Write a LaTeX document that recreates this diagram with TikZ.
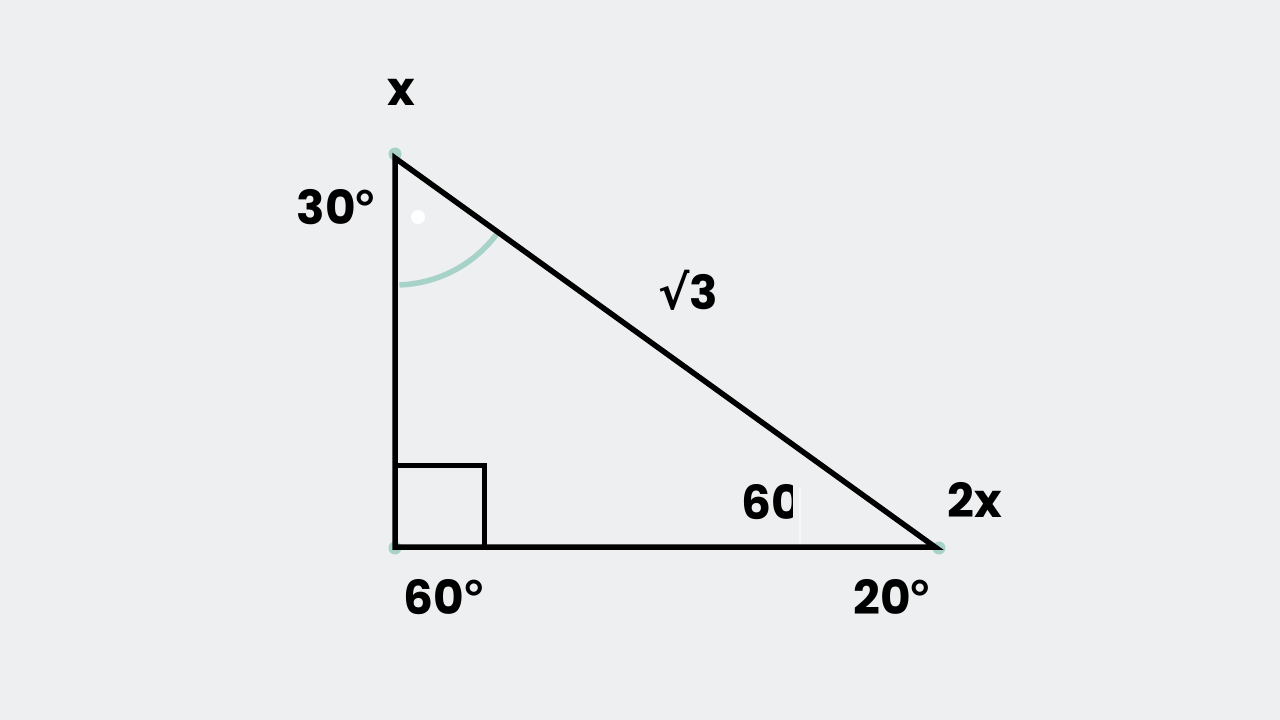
\documentclass[tikz,border=0pt]{standalone}
\usepackage{fontspec}
\setmainfont{Poppins}
\newfontfamily\degfont{Lato}
\newfontfamily\radfont{DejaVu Sans}
\newcommand{\dg}{{\degfont°}}
\definecolor{bg}{HTML}{EEEFF0}
\definecolor{teal}{HTML}{A6D2C8}
\tikzset{
  edge/.style={line width=5.5pt, black, line cap=round, line join=miter},
  lbl/.style={font=\fontsize{47}{47}\selectfont\bfseries, text=black, inner sep=0pt},
  vdot/.style={circle, fill=teal, inner sep=0pt, minimum size=13pt}
}
\begin{document}
\begin{tikzpicture}[x=1pt,y=-1pt]
\fill[bg] (0,0) rectangle (1280,720);
\useasboundingbox (0,0) rectangle (1280,720);
\coordinate (A) at (395,158);
\coordinate (B) at (395,547);
\coordinate (C) at (935,547);
\draw[white, line width=1.5pt, opacity=0.5] (800,488) -- (800,545);
\node[vdot] (dA) at (395,154) {};
\node[vdot] (dB) at (395,548) {};
\node[vdot] (dC) at (939,548) {};
% angle arc
\draw[teal, line width=5.5pt] (A) ++(88:127) arc[start angle=88, end angle=36, radius=127];
\draw[edge] (A) -- (B) -- (C) -- cycle;
\draw[line width=5pt] (395,465) -- (484,465) -- (484,547);
\node[circle, fill=white, inner sep=0pt, minimum size=14pt] (wd) at (418,217) {};
% labels
\node[lbl] (lx) at (401,92) {x};
\node[lbl] (l30) at (336,207) {30\dg};
\node[lbl] (ls) at (688,290) {{\radfont√}3};
\begin{scope}
\clip (700,460) rectangle (792,540);
\node[lbl] (l60a) at (772,502) {60};
\end{scope}
\node[lbl] (l2x) at (975,500) {2x};
\node[lbl] (l60) at (444,597) {60\dg};
\node[lbl] (l20) at (892,597) {20\dg};
\end{tikzpicture}
\end{document}
